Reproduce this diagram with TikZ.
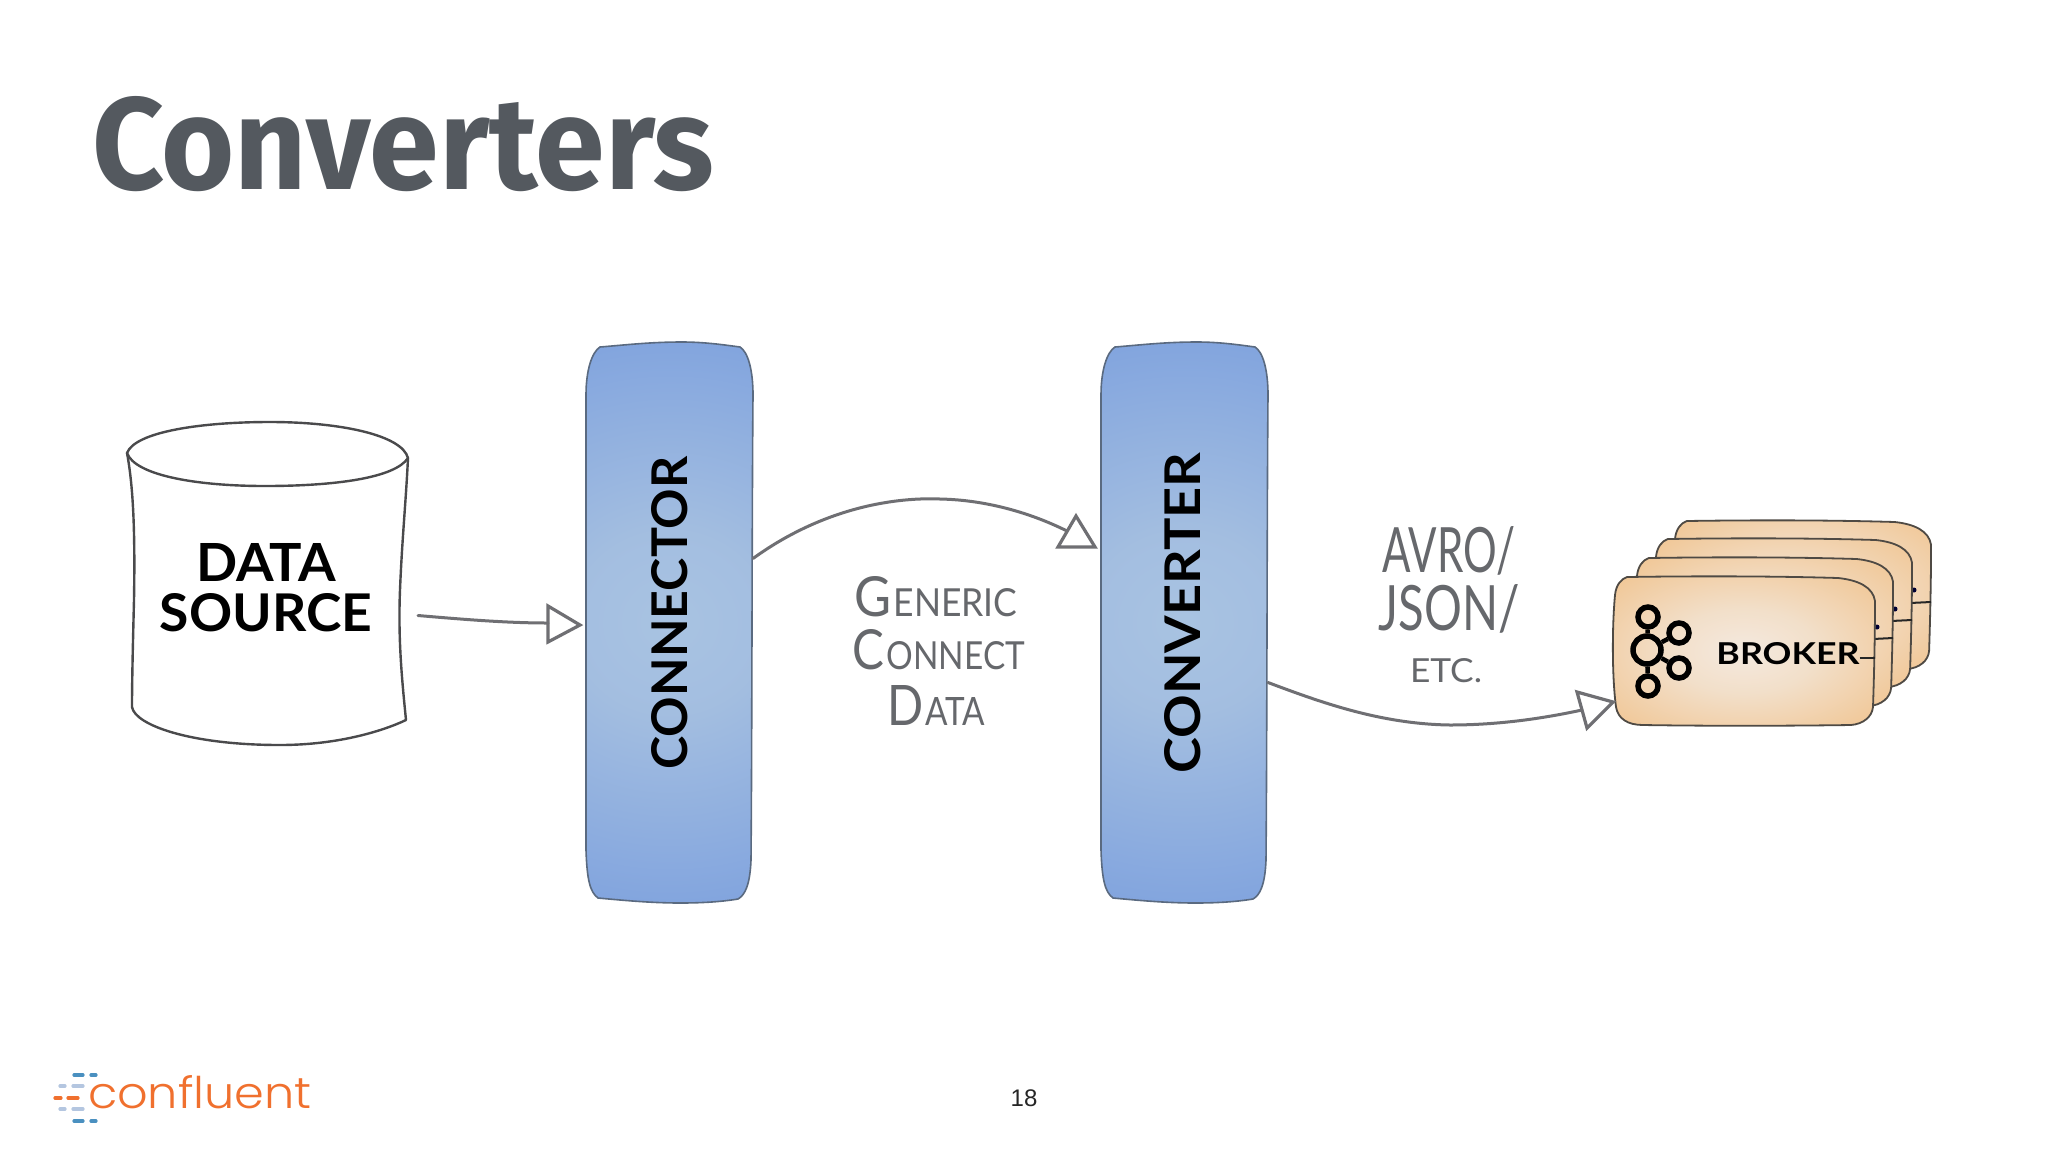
\documentclass[tikz,border=0pt]{standalone}
\usepackage{fontspec}
\usepackage{graphicx}
\setmainfont{Lato}
\newfontfamily\titlefont{Fira Sans}
\newfontfamily\handfont{Lato}
\newfontfamily\logofont{Poppins Light}
\newfontfamily\numfont{Liberation Sans}
\definecolor{titlegray}{HTML}{54595F}
\definecolor{inkline}{HTML}{4A4A4C}
\definecolor{arrowgray}{HTML}{6F6F73}
\definecolor{handgray}{HTML}{66686C}
\definecolor{boxedge}{HTML}{5A6A80}
\definecolor{cardedge}{HTML}{4F4A44}
\definecolor{logoorange}{HTML}{F0702E}
\definecolor{logoblue}{HTML}{4A90C0}
\definecolor{logopale}{HTML}{B4C6E0}
\pgfdeclareradialshading{bluebox}{\pgfpointorigin}{
  rgb(0bp)=(0.66,0.765,0.885);
  rgb(8bp)=(0.64,0.745,0.88);
  rgb(28bp)=(0.49,0.63,0.87);
  rgb(33bp)=(0.47,0.61,0.87);
  rgb(100bp)=(0.47,0.61,0.87)}
\pgfdeclareradialshading{peachcard}{\pgfpointorigin}{
  rgb(0bp)=(0.955,0.915,0.875);
  rgb(14bp)=(0.95,0.875,0.79);
  rgb(33bp)=(0.945,0.785,0.60);
  rgb(100bp)=(0.945,0.785,0.60)}
\newcommand\fitbox[3]{\resizebox{#1pt}{#2pt}{#3}}
\newcommand\tallboxpath{(600,347) .. controls (625,345) and (650,342) .. (682,342) .. controls (705,342) and (725,345) .. (740,347) .. controls (748,352) and (753,370) .. (753,395) .. controls (752,500) and (752,750) .. (751,860) .. controls (750,885) and (745,895) .. (738,899) .. controls (720,902) and (700,903) .. (680,903) .. controls (650,903) and (620,900) .. (598,898) .. controls (590,892) and (587,880) .. (586,850) .. controls (586,700) and (586,500) .. (586,395) .. controls (586,370) and (592,352) .. (600,347) -- cycle}
\newcommand\cardpath{(14,0) .. controls (80,-1) and (160,-1) .. (225,1) .. controls (245,3) and (260,10) .. (262,24) .. controls (262,60) and (261,100) .. (260,130) .. controls (259,140) and (250,147) .. (238,148) .. controls (170,149) and (90,149) .. (30,148) .. controls (15,148) and (5,142) .. (3,130) .. controls (-1,100) and (-1,50) .. (2,18) .. controls (3,8) and (8,2) .. (14,0) -- cycle}
\newcommand\tallbox[1]{%
  \begin{scope}[shift={(#1,0)}]
    \begin{scope}
      \clip \tallboxpath;
      \shade[shading=bluebox] (370,342) rectangle (970,903);
    \end{scope}
    \draw[color=boxedge,line width=1.6pt] \tallboxpath;
  \end{scope}}
\newcommand\brokercard[3]{%
  \begin{scope}[shift={(#1,#2)},xscale=#3]
    \shade[shading=peachcard] \cardpath;
    \draw[color=cardedge,line width=1.8pt] \cardpath;
  \end{scope}}
\tikzset{
  sketch/.style={color=inkline,line width=2.4pt,line cap=round,line join=round},
  flow/.style={color=arrowgray,line width=3pt,line cap=round},
  tiptri/.style={color=arrowgray,line width=3.2pt,line join=miter,fill=white},
  place/.style={inner sep=0pt,outer sep=0pt,minimum width=#1},
  label/.style={inner sep=0pt,outer sep=0pt},
  ink/.style={label,text=black},
  graytext/.style={label,text=handgray},
  kring/.style={draw=black,line width=5.5pt,fill=none,circle,inner sep=0pt},
  kspoke/.style={color=black,line width=4.5pt},
  stub/.style={color=black!85,line width=2pt},
  logodash/.style={line width=3.2pt,line cap=round}
}
\begin{document}
\begin{tikzpicture}[x=1pt,y=-1pt]
\useasboundingbox[fill=white] (0,0) rectangle (2048,1152);

% title
\node[label,anchor=base west,text=titlegray] (title) at (92,189)
  {\fitbox{622}{93}{\titlefont\bfseries Converters}};

% data source cylinder
\node[place=281pt,minimum height=323pt] (source) at (267.5,583.5) {};
\draw[sketch] (127,453) .. controls (135,432) and (200,422) .. (270,422)
  .. controls (340,422) and (402,435) .. (408,458)
  .. controls (395,478) and (335,486) .. (265,486)
  .. controls (195,486) and (135,475) .. (127,453) -- cycle;
\draw[sketch] (127,453) .. controls (134,490) and (135,540) .. (134,600)
  .. controls (133,640) and (132,680) .. (132,707)
  .. controls (135,725) and (190,745) .. (280,745)
  .. controls (340,745) and (385,730) .. (406,720)
  .. controls (402,680) and (398,640) .. (400,590)
  .. controls (402,540) and (406,500) .. (408,458);
\node[ink] (datalabel) at (266,562) {\fitbox{140}{38}{\handfont\bfseries DATA}};
\node[ink] (sourcelabel) at (266,613) {\fitbox{212}{38}{\handfont\bfseries SOURCE}};

% connector box
\node[place=167pt,minimum height=561pt] (connectorbox) at (669.5,622.5) {};
\tallbox{0}
\node[ink,rotate=90] (connectorlabel) at (670,613) {\fitbox{313}{36}{\handfont\bfseries CONNECTOR}};

% converter box
\node[place=167pt,minimum height=561pt] (converterbox) at (1184.5,622.5) {};
\tallbox{515}
\node[ink,rotate=90] (converterlabel) at (1183,613) {\fitbox{321}{36}{\handfont\bfseries CONVERTER}};

% middle labels
\node[graytext] (genericlabel) at (936,597)
  {\fitbox{163}{40}{\handfont G\fontsize{7}{7}\selectfont\hspace{.4pt}ENERIC}};
\node[graytext] (connectlabel) at (939,650)
  {\fitbox{172}{40}{\handfont C\fontsize{7}{7}\selectfont\hspace{.4pt}ONNECT}};
\node[graytext] (datatwolabel) at (936,705)
  {\fitbox{98}{40}{\handfont D\fontsize{7}{7}\selectfont\hspace{.4pt}ATA}};
\node[graytext] (avrolabel) at (1449,551) {\fitbox{133}{46}{\handfont AVRO/}};
\node[graytext] (jsonlabel) at (1449,609) {\fitbox{141}{46}{\handfont JSON/}};
\node[graytext] (etclabel) at (1446,671) {\fitbox{72}{24}{\handfont ETC.}};

% broker cards
\brokercard{1673}{521}{0.985}
\draw[stub] (1931,602) -- (1910,603);
\fill[color=black!80!blue] (1914,590) circle (2.5pt);
\brokercard{1654}{539}{0.985}
\draw[stub] (1912,620) -- (1891,621);
\fill[color=black!80!blue] (1895,609) circle (2.5pt);
\brokercard{1635}{558}{0.985}
\draw[stub] (1893,638) -- (1873,639);
\fill[color=black!80!blue] (1877,627) circle (2.5pt);
\brokercard{1613}{577}{1}
\node[place=262pt,minimum height=148pt] (broker) at (1744,651) {};
% kafka icon
\node[kring,minimum size=28pt] (khub) at (1647,650) {};
\node[kring,minimum size=20pt] (ktop) at (1648,617) {};
\node[kring,minimum size=20pt] (kbot) at (1648,686) {};
\node[kring,minimum size=20pt] (kup) at (1679,633) {};
\node[kring,minimum size=20pt] (kdown) at (1679,668) {};
\draw[kspoke] (khub) -- (ktop);
\draw[kspoke] (khub) -- (kbot);
\draw[kspoke] (khub) -- (kup);
\draw[kspoke] (khub) -- (kdown);
\node[ink] (brokerlabel) at (1788,654) {\fitbox{143}{22}{\handfont\bfseries BROKER}};
\draw[stub] ([yshift=-4pt]brokerlabel.east) -- (broker.east |- 0,658);

% arrow tips
\draw[tiptri] (548,606) -- (580,625) -- (548,642) -- cycle;
\coordinate (tipone) at (548,623);
\draw[tiptri] (1076,516) -- (1095,547) -- (1058,547) -- cycle;
\coordinate (tiptwo) at (1067,531);
\draw[tiptri] (1577,692) -- (1613,702) -- (1587,728) -- cycle;
\coordinate (tipthree) at (1582,710);

% connectors
\draw[flow] ([xshift=10pt,yshift=-32pt]source.east) .. controls (470,620) and (510,623) .. (tipone);
\draw[flow] ([yshift=64pt]connectorbox.east) .. controls (820,510) and (890,497) .. (940,499)
  .. controls (990,500) and (1035,515) .. (tiptwo);
\draw[flow] ([yshift=-60pt]converterbox.east) .. controls (1320,702) and (1380,724) .. (1450,725)
  .. controls (1500,725) and (1545,718) .. (tipthree);

% page number
\node[label,text=black!85] (pagenum) at (1024,1098) {\fontsize{24}{24}\selectfont\numfont 18};

% logo
\node[label,anchor=base west,text=logoorange] (logotext) at (88,1108)
  {\fitbox{224}{33}{\logofont confluent}};
\draw[logodash,color=logoblue] (74,1075) -- (83,1075) (91,1075) -- (96,1075);
\draw[logodash,color=logopale] (60,1086) -- (65,1086) (73,1086) -- (83,1086);
\draw[logodash,color=logoorange] (55,1098) -- (61,1098) (68,1098) -- (78,1098);
\draw[logodash,color=logopale] (60,1109) -- (65,1109) (73,1109) -- (83,1109);
\draw[logodash,color=logoblue] (74,1121) -- (83,1121) (91,1121) -- (96,1121);
\end{tikzpicture}
\end{document}
